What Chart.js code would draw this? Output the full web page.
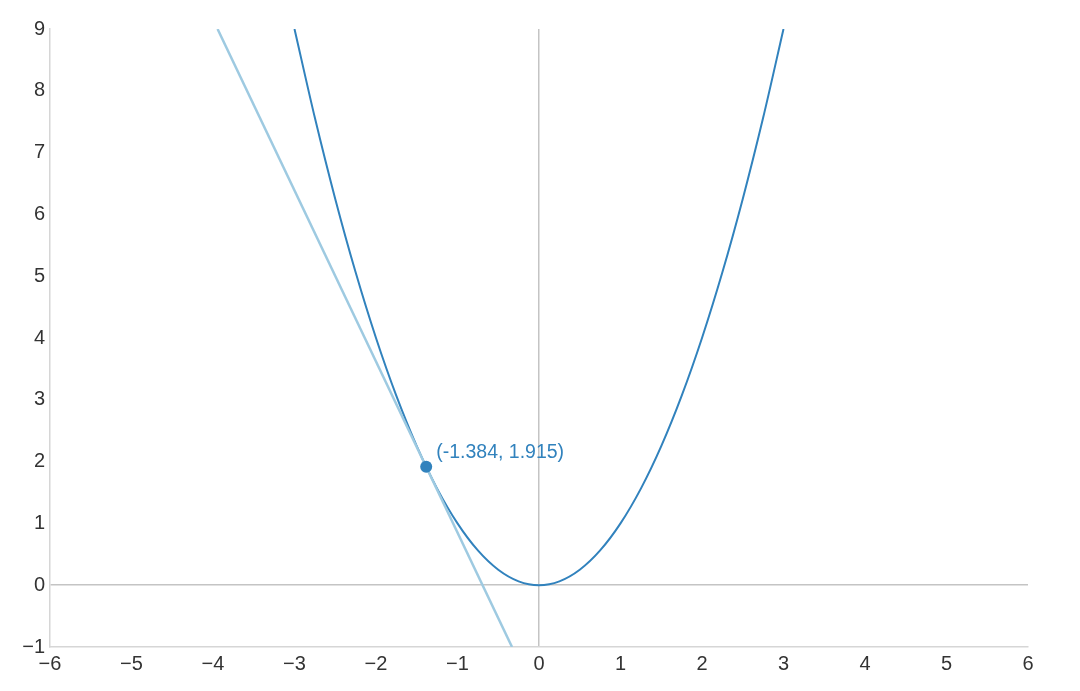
<!DOCTYPE html>
<html>
<head>
  <meta charset="utf-8">
  <title>Tangent to y = x²</title>
  <script src="https://cdn.jsdelivr.net/npm/chart.js@4.4.1/dist/chart.umd.min.js"></script>
  <style>
    html, body { margin: 0; padding: 0; background: #fff; }
    #wrap { width: 1080px; height: 691px; }
  </style>
</head>
<body>
  <div id="wrap"><canvas id="chart" width="1080" height="691"></canvas></div>
  <script>
    // curve points
    const curveX = [-3, -2.75, -2.5, -2.25, -2, -1.75, -1.5, -1.25, -1, -0.75, -0.5, -0.25, 0,
                    0.25, 0.5, 0.75, 1, 1.25, 1.5, 1.75, 2, 2.25, 2.5, 2.75, 3];
    const curveY = [9, 7.5625, 6.25, 5.0625, 4, 3.0625, 2.25, 1.5625, 1, 0.5625, 0.25, 0.0625, 0,
                    0.0625, 0.25, 0.5625, 1, 1.5625, 2.25, 3.0625, 4, 5.0625, 6.25, 7.5625, 9];
    // tangent line end points
    const tangentX = [-3.944, -0.331];
    const tangentY = [9, -1];
    // marked point
    const pointX = -1.384;
    const pointY = 1.915;
    const pointLabel = '(-1.384, 1.915)';

    const xMin = -6, xMax = 6, yMin = -1, yMax = 9;

    const blue = '#3182bd';
    const lightBlue = '#9ecae1';
    const font = "'Liberation Sans', Arial, sans-serif";

    const toXY = (xs, ys) => xs.map((x, i) => ({ x: x, y: ys[i] }));
    const fmt = v => (v < 0 ? '\u2212' + Math.abs(v) : String(v));

    const pointLabelPlugin = {
      id: 'pointLabel',
      afterDatasetsDraw(chart) {
        const ctx = chart.ctx;
        const px = chart.scales.x.getPixelForValue(pointX);
        const py = chart.scales.y.getPixelForValue(pointY);
        ctx.save();
        // dot
        ctx.fillStyle = blue;
        ctx.beginPath();
        ctx.arc(px, py, 6, 0, Math.PI * 2);
        ctx.fill();
        // label
        ctx.font = '19.5px ' + font;
        ctx.textAlign = 'left';
        ctx.textBaseline = 'middle';
        ctx.fillText(pointLabel, px + 10, py - 14);
        ctx.restore();
      }
    };

    new Chart(document.getElementById('chart'), {
      type: 'scatter',
      data: {
        datasets: [
          {
            data: toXY(tangentX, tangentY),
            showLine: true,
            borderColor: lightBlue,
            borderWidth: 2.5,
            pointRadius: 0,
            fill: false
          },
          {
            data: toXY(curveX, curveY),
            showLine: true,
            borderColor: blue,
            borderWidth: 2,
            pointRadius: 0,
            tension: 0.4,
            cubicInterpolationMode: 'monotone',
            fill: false
          }
        ]
      },
      options: {
        responsive: false,
        animation: false,
        layout: { padding: { top: 29, right: 52, left: 0, bottom: 0 } },
        plugins: {
          legend: { display: false },
          tooltip: { enabled: false }
        },
        scales: {
          x: {
            type: 'linear',
            min: xMin,
            max: xMax,
            afterFit: s => { s.height = 44; },
            border: { display: true, color: '#d6d6d6', width: 1.5 },
            grid: {
              drawTicks: false,
              tickLength: 0,
              color: c => (c.tick && c.tick.value === 0 ? '#c4c4c4' : 'rgba(0,0,0,0)'),
              lineWidth: 1.5
            },
            ticks: {
              stepSize: 1,
              padding: 5,
              color: '#333333',
              font: { size: 20, family: font },
              callback: v => fmt(v)
            }
          },
          y: {
            type: 'linear',
            min: yMin,
            max: yMax,
            afterFit: s => { s.width = 50; },
            border: { display: true, color: '#d6d6d6', width: 1.5 },
            grid: {
              drawTicks: false,
              tickLength: 0,
              color: c => (c.tick && c.tick.value === 0 ? '#c4c4c4' : 'rgba(0,0,0,0)'),
              lineWidth: 1.5
            },
            ticks: {
              stepSize: 1,
              padding: 5,
              color: '#333333',
              font: { size: 20, family: font },
              callback: v => fmt(v)
            }
          }
        }
      },
      plugins: [pointLabelPlugin]
    });
  </script>
</body>
</html>
